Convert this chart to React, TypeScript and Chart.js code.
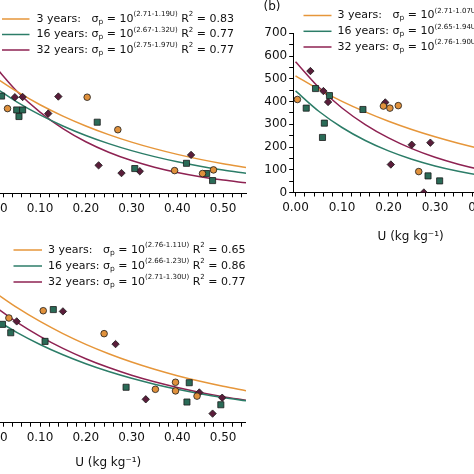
import React, { useEffect, useRef } from 'react';
import { Chart, registerables } from 'chart.js';

Chart.register(...registerables);
Chart.defaults.font.family = '"DejaVu Sans", sans-serif';

// ---------------- shared series info ----------------
const seriesNames = ['3 years', '16 years', '32 years'];
const lineColors = ['#E6963A', '#2C7D68', '#8E2252'];
const markerFills = ['#E0913C', '#2A6B57', '#5A1D3A'];
const markerStyles = ['circle', 'rect', 'rectRot'];
const markerRadii = [3.3, 4.3, 3.7];

const xTickLabels = ['0.00', '0.10', '0.20', '0.30', '0.40', '0.50'];
const yTickLabels = ['0', '100', '200', '300', '400', '500', '600', '700'];

const curveUac = [0, 0.05, 0.1, 0.15, 0.2, 0.25, 0.3, 0.35, 0.4, 0.45, 0.5, 0.55];
const curveUb = [0, 0.05, 0.1, 0.15, 0.2, 0.25, 0.3, 0.35, 0.4, 0.45, 0.5];

// ---------------- panel (a) ----------------
const aU3 = [0.029, 0.203, 0.27, 0.394, 0.455, 0.479];
const aS3 = [373, 423, 280, 100, 87, 103];
const aU16 = [0.016, 0.049, 0.062, 0.054, 0.225, 0.307, 0.42, 0.464, 0.477];
const aS16 = [428, 367, 367, 338, 313, 109, 132, 87, 56];
const aU32 = [0.045, 0.062, 0.14, 0.118, 0.228, 0.278, 0.318, 0.43];
const aS32 = [423, 424, 426, 351, 123, 89, 97, 169];
const aCurve3 = [512.9, 447.2, 389.9, 340.0, 296.5, 258.5, 225.4, 196.6, 171.4, 149.4, 130.3, 113.6];
const aCurve16 = [467.7, 401.8, 345.1, 296.5, 254.7, 218.8, 187.9, 161.4, 138.7, 119.1, 102.3, 87.9];
const aCurve32 = [562.3, 448.3, 357.3, 284.8, 227.0, 180.9, 144.2, 115.0, 91.6, 73.0, 58.2, 46.4];
const aIntercept = ['2.71', '2.67', '2.75'];
const aSlope = ['1.19', '1.32', '1.97'];
const aR2 = ['0.83', '0.77', '0.77'];

// ---------------- panel (b) ----------------
const bU3 = [0.004, 0.189, 0.203, 0.221, 0.265];
const bS3 = [409, 380, 371, 382, 92];
const bU16 = [0.023, 0.043, 0.073, 0.062, 0.058, 0.145, 0.285, 0.31];
const bS16 = [371, 457, 426, 305, 242, 365, 73, 51];
const bU32 = [0.032, 0.06, 0.07, 0.193, 0.205, 0.25, 0.29, 0.276];
const bS32 = [534, 446, 398, 396, 123, 210, 219, 0];
const bCurve3 = [512.9, 453.5, 400.9, 354.4, 313.3, 277.0, 244.9, 216.5, 191.4, 169.2, 149.6];
const bCurve16 = [446.7, 357.3, 285.8, 228.6, 182.8, 146.2, 116.9, 93.5, 74.8, 59.8, 47.9];
const bCurve32 = [575.4, 462.4, 371.5, 298.5, 239.9, 192.8, 154.9, 124.5, 100.0, 80.4, 64.6];
const bIntercept = ['2.71', '2.65', '2.76'];
const bSlope = ['1.07', '1.94', '1.90'];
const bR2 = ['0.62', '0.58', '0.69'];

// ---------------- panel (c) ----------------
const cU3 = [0.032, 0.107, 0.24, 0.352, 0.396, 0.396, 0.443];
const cS3 = [461, 493, 392, 147, 178, 140, 117];
const cU16 = [0.018, 0.036, 0.129, 0.111, 0.288, 0.426, 0.421, 0.495];
const cS16 = [433, 396, 498, 358, 156, 176, 91, 79];
const cU32 = [0.049, 0.15, 0.265, 0.331, 0.448, 0.498, 0.477];
const cS32 = [446, 490, 346, 103, 133, 110, 40];
const cCurve3 = [575.4, 506.5, 445.7, 392.3, 345.1, 303.8, 267.3, 235.3, 207.0, 182.2, 160.3, 141.1];
const cCurve16 = [457.1, 396.7, 344.4, 298.9, 259.4, 225.1, 195.4, 169.6, 147.2, 127.8, 110.9, 96.3];
const cCurve32 = [512.9, 441.6, 380.2, 327.3, 281.8, 242.7, 208.9, 179.9, 154.9, 133.4, 114.8, 98.9];
const cIntercept = ['2.76', '2.66', '2.71'];
const cSlope = ['1.11', '1.23', '1.30'];
const cR2 = ['0.65', '0.86', '0.77'];

const xTitleText = 'U (kg kg\u207B\u00B9)';

type Spec = {
  box: { L: number; T: number; W: number; H: number };
  pad: { left: number; top: number; right: number; bottom: number };
  yw: number;
  xh: number;
  xmin: number;
  xmax: number;
  curveU: number[];
  curves: number[][];
  pu: number[][];
  ps: number[][];
  fit: { b0: string[]; b1: string[]; r2: string[] };
  legend: { lineX: [number, number]; textX: number; rows: number[] };
  xTitle: boolean;
  titlePad: number;
  tag?: { text: string; x: number; y: number };
};

const specs: Spec[] = [
  {
    box: { L: -60, T: 0, W: 320, H: 235 },
    pad: { left: 14.25, top: 34.3, right: 14, bottom: 11.7 },
    yw: 40,
    xh: 30,
    xmin: 0,
    xmax: 0.55,
    curveU: curveUac,
    curves: [aCurve3, aCurve16, aCurve32],
    pu: [aU3, aU16, aU32],
    ps: [aS3, aS16, aS32],
    fit: { b0: aIntercept, b1: aSlope, r2: aR2 },
    legend: { lineX: [2, 29.5], textX: 36.5, rows: [19, 34.5, 50] },
    xTitle: false,
    titlePad: 0,
  },
  {
    box: { L: 240, T: 0, W: 308, H: 250 },
    pad: { left: 8.2, top: 33.3, right: 20, bottom: 2.5 },
    yw: 45,
    xh: 55,
    xmin: -0.005,
    xmax: 0.5,
    curveU: curveUb,
    curves: [bCurve3, bCurve16, bCurve32],
    pu: [bU3, bU16, bU32],
    ps: [bS3, bS16, bS32],
    fit: { b0: bIntercept, b1: bSlope, r2: bR2 },
    legend: { lineX: [303.5, 331.5], textX: 337.5, rows: [15.5, 31.3, 47] },
    xTitle: true,
    titlePad: 3.3,
    tag: { text: '(b)', x: 272, y: 7 },
  },
  {
    box: { L: -90, T: 240, W: 350, H: 234 },
    pad: { left: 20.46, top: 23.7, right: 14, bottom: 3.3 },
    yw: 40,
    xh: 48,
    xmin: -0.052,
    xmax: 0.55,
    curveU: curveUac,
    curves: [cCurve3, cCurve16, cCurve32],
    pu: [cU3, cU16, cU32],
    ps: [cS3, cS16, cS32],
    fit: { b0: cIntercept, b1: cSlope, r2: cR2 },
    legend: { lineX: [13.5, 42], textX: 48, rows: [250, 266, 282] },
    xTitle: true,
    titlePad: 0.5,
  },
];

function rich(ctx: CanvasRenderingContext2D, x: number, y: number, parts: [string, number, number][]) {
  for (const [t, size, dy] of parts) {
    ctx.font = `${size}px "DejaVu Sans"`;
    ctx.fillText(t, x, y + dy);
    x += ctx.measureText(t).width;
  }
  return x;
}

function makeOverlay(spec: Spec) {
  return {
    id: 'overlay',
    afterDraw(chart: any) {
      const ctx: CanvasRenderingContext2D = chart.ctx;
      const { L, T } = spec.box;
      ctx.save();
      ctx.textBaseline = 'middle';
      ctx.textAlign = 'left';
      ctx.fillStyle = '#111';
      const lg = spec.legend;
      for (let i = 0; i < 3; i++) {
        const y = lg.rows[i] - T;
        ctx.strokeStyle = lineColors[i];
        ctx.lineWidth = 1.5;
        ctx.beginPath();
        ctx.moveTo(lg.lineX[0] - L, y);
        ctx.lineTo(lg.lineX[1] - L, y);
        ctx.stroke();
        let x = lg.textX - L;
        ctx.font = '11px "DejaVu Sans"';
        ctx.fillText(seriesNames[i] + ':', x, y);
        x += ctx.measureText(seriesNames[1] + ': ').width;
        rich(ctx, x, y, [
          ['\u03C3', 11, 0],
          ['p', 7.5, 3],
          [' = 10', 11, 0],
          [`(${spec.fit.b0[i]}-${spec.fit.b1[i]}U)`, 7, -4.5],
          [' R', 11, 0],
          ['2', 7, -4.5],
          [` = ${spec.fit.r2[i]}`, 11, 0],
        ]);
      }
      if (spec.tag) {
        ctx.font = '12px "DejaVu Sans"';
        ctx.textAlign = 'center';
        ctx.fillText(spec.tag.text, spec.tag.x - L, spec.tag.y - T);
      }
      ctx.restore();
    },
  };
}

function xLabel(v: number) {
  const k = Math.round(v * 10);
  if (Math.abs(v * 10 - k) < 1e-6 && k >= 0 && k < xTickLabels.length) return xTickLabels[k];
  return '';
}
function yLabel(v: number) {
  const k = Math.round(v / 100);
  if (Math.abs(v / 100 - k) < 1e-6 && k >= 0 && k < yTickLabels.length) return yTickLabels[k];
  return '';
}

function Panel({ spec }: { spec: Spec }) {
  const ref = useRef<HTMLCanvasElement | null>(null);
  useEffect(() => {
    if (!ref.current) return;
    const lines = spec.curves.map((c, i) => ({
      type: 'line' as const,
      data: spec.curveU.map((u, k) => ({ x: u, y: c[k] })),
      borderColor: lineColors[i],
      borderWidth: 1.5,
      pointRadius: 0,
      fill: false,
      cubicInterpolationMode: 'monotone' as const,
      order: 2,
    }));
    const pts = spec.pu.map((us, i) => ({
      type: 'scatter' as const,
      data: us.map((u, k) => ({ x: u, y: spec.ps[i][k] })),
      pointStyle: markerStyles[i],
      pointRadius: markerRadii[i],
      backgroundColor: markerFills[i],
      borderColor: '#1a1a1a',
      borderWidth: 0.8,
      order: 1,
    }));
    const axisGrid = { display: true, drawOnChartArea: false, drawTicks: true, tickLength: 4, color: '#000', lineWidth: 1 };
    const axisBorder = { display: true, color: '#000', width: 1 };
    const chart = new Chart(ref.current, {
      type: 'scatter',
      data: { datasets: [...lines, ...pts] as any },
      plugins: [makeOverlay(spec)],
      options: {
        animation: false,
        responsive: true,
        maintainAspectRatio: false,
        events: [],
        layout: { padding: spec.pad },
        plugins: { legend: { display: false }, tooltip: { enabled: false }, title: { display: false } },
        scales: {
          x: {
            type: 'linear',
            min: spec.xmin,
            max: spec.xmax,
            afterFit: (s: any) => {
              s.height = spec.xh;
            },
            ticks: {
              stepSize: 0.02,
              includeBounds: false,
              autoSkip: false,
              maxRotation: 0,
              minRotation: 0,
              padding: 4,
              color: '#111',
              font: { size: 12 },
              callback: (v: any) => xLabel(Number(v)),
            },
            grid: axisGrid,
            border: axisBorder,
            title: {
              display: spec.xTitle,
              text: xTitleText,
              color: '#111',
              font: { size: 12 },
              padding: { top: 0, bottom: spec.titlePad },
            },
          },
          y: {
            type: 'linear',
            min: 0,
            max: 700,
            afterFit: (s: any) => {
              s.width = spec.yw;
            },
            ticks: {
              stepSize: 50,
              includeBounds: false,
              autoSkip: false,
              padding: 2,
              color: '#111',
              font: { size: 12 },
              callback: (v: any) => yLabel(Number(v)),
            },
            grid: axisGrid,
            border: axisBorder,
          },
        },
      } as any,
    });
    return () => chart.destroy();
  }, [spec]);
  const { L, T, W, H } = spec.box;
  return (
    <div style={{ position: 'absolute', left: L, top: T, width: W, height: H }}>
      <canvas ref={ref} style={{ display: 'block' }} />
    </div>
  );
}

export default function App() {
  return (
    <div
      style={{
        position: 'fixed',
        left: 0,
        top: 0,
        width: 474,
        height: 474,
        overflow: 'hidden',
        background: '#fff',
      }}
    >
      {specs.map((s, i) => (
        <Panel key={i} spec={s} />
      ))}
    </div>
  );
}
